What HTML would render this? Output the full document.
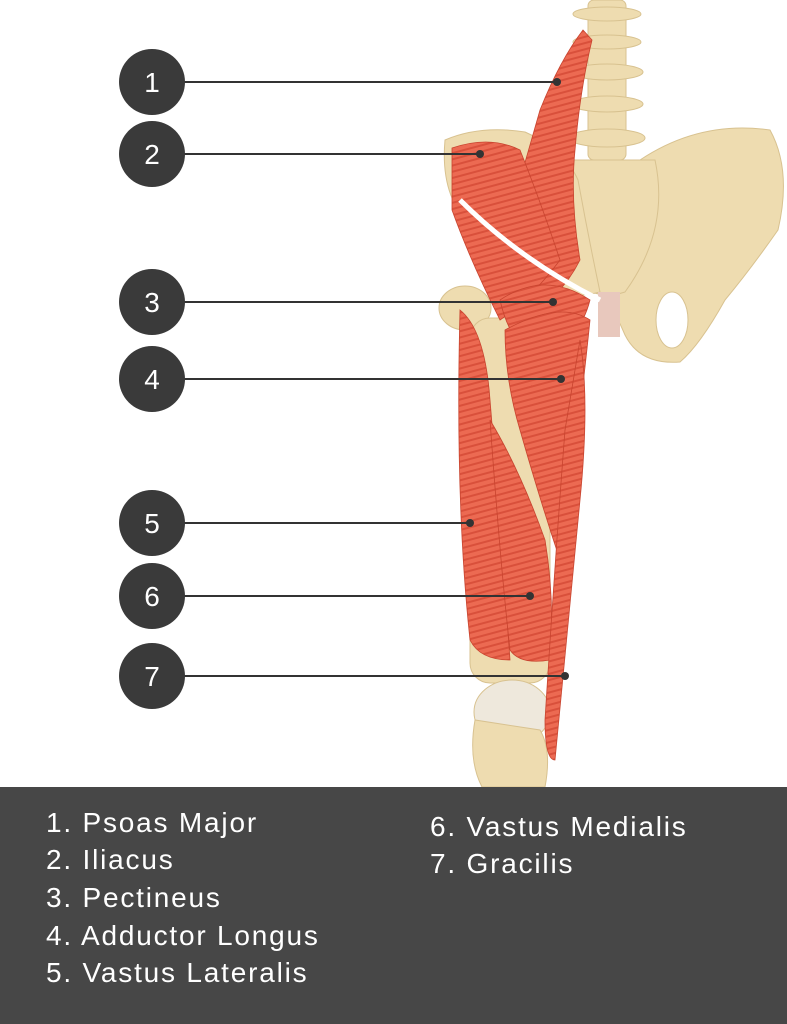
<!DOCTYPE html>
<html><head><meta charset="utf-8"><style>
html,body{margin:0;padding:0;background:#fff;}
body{width:787px;height:1024px;position:relative;overflow:hidden;font-family:"Liberation Sans",sans-serif;}
.panel{position:absolute;left:0;top:787px;width:787px;height:237px;background:#474747;}
.t{position:absolute;color:#fff;font-size:28px;letter-spacing:1.8px;white-space:nowrap;}
</style></head><body>
<svg width="787" height="787" style="position:absolute;left:0;top:0">
<defs>
<pattern id="fib" width="6" height="6" patternUnits="userSpaceOnUse" patternTransform="rotate(75)">
<rect width="6" height="6" fill="#ec6a52"/><rect width="2" height="6" fill="#d9503b"/></pattern>
</defs>
<g fill="#eedcb0" stroke="#d8c290" stroke-width="1">
<rect x="588" y="0" width="38" height="160" rx="6"/>
<ellipse cx="607" cy="14" rx="34" ry="7"/><ellipse cx="607" cy="42" rx="34" ry="7"/>
<ellipse cx="607" cy="72" rx="36" ry="8"/><ellipse cx="607" cy="104" rx="36" ry="8"/>
<ellipse cx="607" cy="138" rx="38" ry="9"/>
<path d="M640 160 Q700 120 770 130 Q792 170 778 230 Q750 270 725 300 Q700 345 680 362 Q640 365 625 335 Q610 300 600 292 Q620 250 640 230 Z"/>
<path d="M565 160 L655 160 Q670 230 625 292 Q607 298 592 292 Q550 230 565 160 Z"/>
<path d="M445 140 Q480 125 525 132 Q565 150 578 180 Q588 235 600 292 Q570 300 545 288 Q500 255 470 225 Q440 195 445 140 Z"/>
<ellipse cx="465" cy="308" rx="26" ry="22"/>
<rect x="470" y="318" width="80" height="365" rx="20"/>
<ellipse cx="512" cy="712" rx="38" ry="32" fill="#eee8dc"/>
<path d="M475 720 Q468 760 482 787 L545 787 Q552 750 540 730 Z"/>
</g>
<ellipse cx="672" cy="320" rx="16" ry="28" fill="#fff" stroke="#d8c290"/>
<rect x="598" y="292" width="22" height="45" fill="#e8c8bd"/>
<g fill="url(#fib)" stroke="#c8442f" stroke-width="0.8">
<path d="M583 30 Q560 60 540 110 Q520 180 500 250 Q495 300 520 320 Q560 300 580 260 Q570 200 575 150 Q580 90 592 40 Z"/>
<path d="M452 148 Q490 135 520 150 Q540 200 560 260 Q530 300 500 320 Q470 260 452 210 Z"/>
<path d="M500 300 Q545 270 590 300 Q580 340 540 360 Q510 345 500 300 Z"/>
<path d="M505 330 Q560 300 590 320 Q580 420 560 560 Q540 500 520 430 Q505 380 505 330 Z"/>
<path d="M460 310 Q485 330 490 400 Q500 520 510 660 Q480 660 470 640 Q455 500 460 310 Z"/>
<path d="M490 420 Q520 470 545 540 Q555 600 550 660 Q520 665 510 650 Q500 560 490 420 Z"/>
<path d="M580 340 Q590 400 580 500 Q570 600 555 760 Q545 760 545 720 Q555 560 565 430 Z"/>
</g>
<path d="M460 200 Q520 260 600 300" stroke="#fff" stroke-width="5" fill="none"/>
<g stroke="#333" stroke-width="2">
<line x1="152" y1="82" x2="557" y2="82"/><line x1="152" y1="154" x2="480" y2="154"/>
<line x1="152" y1="302" x2="553" y2="302"/><line x1="152" y1="379" x2="561" y2="379"/>
<line x1="152" y1="523" x2="470" y2="523"/><line x1="152" y1="596" x2="530" y2="596"/>
<line x1="152" y1="676" x2="565" y2="676"/>
</g>
<g fill="#333">
<circle cx="557" cy="82" r="4"/><circle cx="480" cy="154" r="4"/><circle cx="553" cy="302" r="4"/>
<circle cx="561" cy="379" r="4"/><circle cx="470" cy="523" r="4"/><circle cx="530" cy="596" r="4"/>
<circle cx="565" cy="676" r="4"/>
</g>
<g fill="#3a3a3a">
<circle cx="152" cy="82" r="33"/><circle cx="152" cy="154" r="33"/><circle cx="152" cy="302" r="33"/>
<circle cx="152" cy="379" r="33"/><circle cx="152" cy="523" r="33"/><circle cx="152" cy="596" r="33"/>
<circle cx="152" cy="676" r="33"/>
</g>
<g fill="#fff" font-family="Liberation Sans,sans-serif" font-size="28" text-anchor="middle">
<text x="152" y="92">1</text><text x="152" y="164">2</text><text x="152" y="312">3</text>
<text x="152" y="389">4</text><text x="152" y="533">5</text><text x="152" y="606">6</text>
<text x="152" y="686">7</text>
</g>
</svg>
<div class="panel"></div>
<div class="t" style="left:46px;top:807px">1. Psoas Major</div>
<div class="t" style="left:46px;top:844px">2. Iliacus</div>
<div class="t" style="left:46px;top:882px">3. Pectineus</div>
<div class="t" style="left:46px;top:920px">4. Adductor Longus</div>
<div class="t" style="left:46px;top:957px">5. Vastus Lateralis</div>
<div class="t" style="left:430px;top:811px">6. Vastus Medialis</div>
<div class="t" style="left:430px;top:848px">7. Gracilis</div>
</body></html>
